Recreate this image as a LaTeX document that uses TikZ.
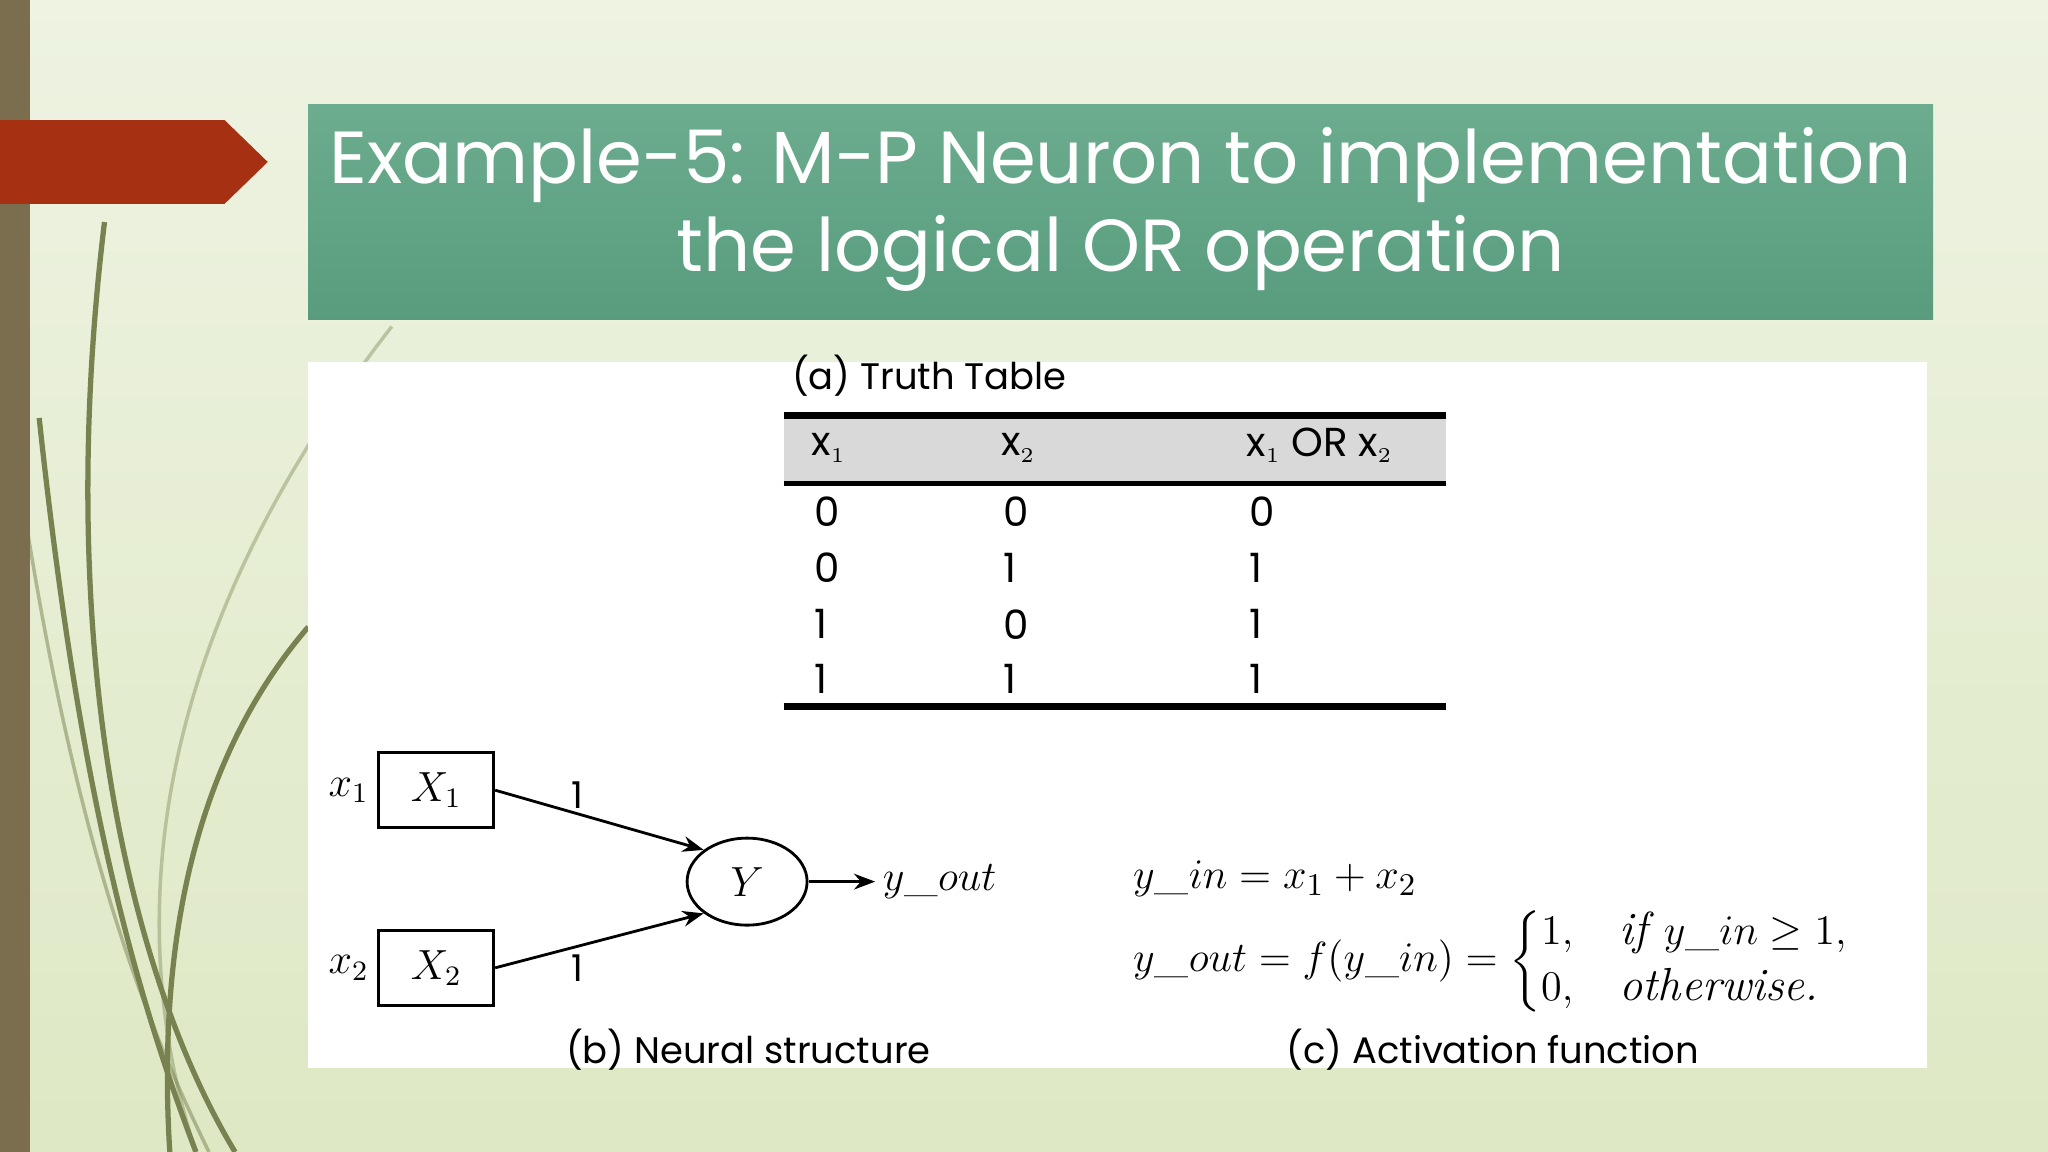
\documentclass[tikz,border=0pt]{standalone}
\usepackage{fontspec}
\usepackage{amsmath}
\setsansfont{Poppins}
\usetikzlibrary{arrows.meta,shapes.geometric}
\definecolor{bgtop}{RGB}{238,243,226}
\definecolor{bgbot}{RGB}{222,232,196}
\definecolor{ttop}{RGB}{108,172,143}
\definecolor{tbot}{RGB}{88,156,125}
\definecolor{redarr}{RGB}{166,48,18}
\definecolor{sidebar}{RGB}{122,110,78}
\definecolor{curve}{RGB}{120,130,80}
\begin{document}
\begin{tikzpicture}[x=0.013061cm,y=-0.013061cm,
  tbl/.style={font=\sffamily\fontsize{11.5}{11.5}\selectfont,anchor=west},
  captxt/.style={font=\sffamily\fontsize{10.5}{10.5}\selectfont},
  inbox/.style={draw,thick,minimum width=1.15cm,minimum height=0.75cm,font=\fontsize{12}{12}\selectfont},
  arr/.style={-{Stealth[length=6pt]},thick}]
\useasboundingbox (0,0) rectangle (1568,882);
\shade[top color=bgtop, bottom color=bgbot] (0,0) rectangle (1568,882);
% decorative curves
\begin{scope}[curve,line width=1.5pt]
\draw (80,170) .. controls (40,500) and (100,750) .. (180,882);
\draw (30,320) .. controls (60,600) and (100,750) .. (150,882);
\draw[line width=1pt,opacity=0.4] (300,250) .. controls (120,480) and (90,700) .. (150,882);
\draw (236,480) .. controls (150,580) and (120,720) .. (130,882);
\draw[line width=1pt,opacity=0.5] (20,400) .. controls (60,650) and (110,780) .. (160,882);
\end{scope}
\fill[sidebar] (0,0) rectangle (23,882);
\fill[redarr] (0,92) -- (172,92) -- (205,124) -- (172,156) -- (0,156) -- cycle;
% title
\shade[top color=ttop, bottom color=tbot] (236,80) rectangle (1480,245);
\node[text=white,align=center,font=\sffamily\fontsize{21}{25}\selectfont] (title) at (858,160) {Example-5: M-P Neuron to implementation\\the logical OR operation};
% panel
\fill[white] (236,277) rectangle (1475,818);
\node[captxt,anchor=west] (capa) at (597,288) {(a) Truth Table};
\fill[gray!30] (600,320) rectangle (1107,370);
\draw[line width=2pt] (600,318) -- (1107,318);
\draw[line width=1.5pt] (600,370) -- (1107,370);
\draw[line width=2pt] (600,541) -- (1107,541);
\node[tbl] (h1) at (612,343) {x$_{\scriptscriptstyle 1}$};
\node[tbl] (h2) at (757,343) {x$_{\scriptscriptstyle 2}$};
\node[tbl] (h3) at (945,341) {x$_{\scriptscriptstyle 1}$ OR x$_{\scriptscriptstyle 2}$};
\foreach \a/\b/\c/\y in {0/0/0/392,0/1/1/435,1/0/1/478,1/1/1/520}{
  \node[tbl] at (614,\y) {\a};
  \node[tbl] at (759,\y) {\b};
  \node[tbl] at (947,\y) {\c};}
% neural
\node[inbox] (X1) at (334,605) {$X_1$};
\node[inbox] (X2) at (334,741) {$X_2$};
\node[font=\fontsize{12}{12}\selectfont] (lx1) at (267,605) {$x_1$};
\node[font=\fontsize{12}{12}\selectfont] (lx2) at (267,741) {$x_2$};
\node[draw,thick,ellipse,minimum width=1.2cm,minimum height=0.87cm,font=\fontsize{12}{12}\selectfont] (Y) at (572,675) {$Y$};
\draw[arr] (X1.east) -- (Y.north west);
\draw[arr] (X2.east) -- (Y.south west);
\node[captxt] (w1) at (442,609) {1};
\node[captxt] (w2) at (442,741) {1};
\coordinate (yo) at (670,675);
\draw[arr] (Y.east) -- (yo);
\node[anchor=west,font=\fontsize{13}{13}\selectfont,inner sep=2pt] (yout) at (yo) {$y\_out$};
% equations
\node[anchor=west,font=\fontsize{13.2}{13.2}\selectfont] (eq1) at (858,673) {$y\_in = x_1 + x_2$};
\node[anchor=west,font=\fontsize{13.2}{13.2}\selectfont] (eq2) at (858,736) {$y\_out = f(y\_in) = \begin{cases}1, & \textit{if } y\_in \ge 1,\\ 0, & \textit{otherwise.}\end{cases}$};
\node[captxt] (capb) at (573,804) {(b) Neural structure};
\node[captxt] (capc) at (1143,804) {(c) Activation function};
\end{tikzpicture}
\end{document}
